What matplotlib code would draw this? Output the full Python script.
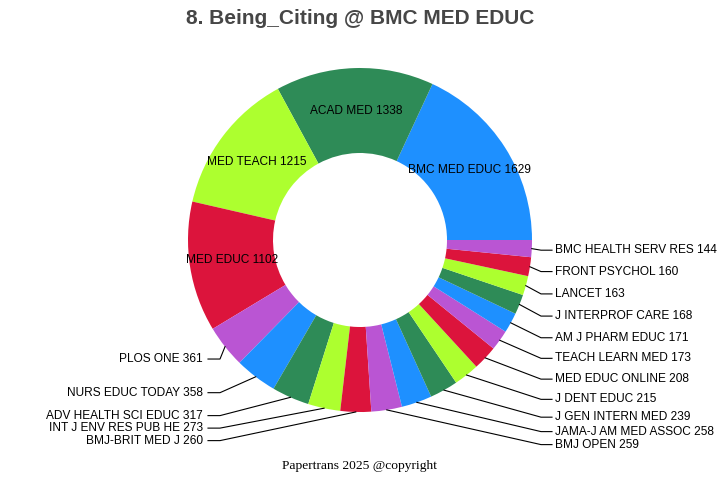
import numpy as np
import matplotlib
matplotlib.use("Agg")
import matplotlib.pyplot as plt

# journals citing BMC MED EDUC, in drawing order (counter-clockwise from 3 o'clock)
journals = ["BMC MED EDUC", "ACAD MED", "MED TEACH", "MED EDUC", "PLOS ONE",
            "NURS EDUC TODAY", "ADV HEALTH SCI EDUC", "INT J ENV RES PUB HE",
            "BMJ-BRIT MED J", "BMJ OPEN", "JAMA-J AM MED ASSOC", "J GEN INTERN MED",
            "J DENT EDUC", "MED EDUC ONLINE", "TEACH LEARN MED", "AM J PHARM EDUC",
            "J INTERPROF CARE", "LANCET", "FRONT PSYCHOL", "BMC HEALTH SERV RES"]
counts = [1629, 1338, 1215, 1102, 361, 358, 317, 273, 260, 259, 258, 239,
          215, 208, 173, 171, 168, 163, 160, 144]
palette = ["#1E90FF", "#2E8B57", "#ADFF2F", "#DC143C", "#BA55D3"]

plt.rcParams['font.family'] = ['Liberation Sans', 'DejaVu Sans']

fig = plt.figure(figsize=(7.2, 4.8), dpi=100)
ax = fig.add_axes([0, 0, 1, 1])

cx, cy = 360, 240          # centre in pixel units (y up)
r_out, r_in = 172, 87
colors = [palette[i % len(palette)] for i in range(len(counts))]

wedges, _ = ax.pie(counts, colors=colors, startangle=0, counterclock=True,
                   radius=r_out, center=(cx, cy),
                   wedgeprops=dict(width=r_out - r_in, linewidth=0))
ax.set_xlim(0, 720)
ax.set_ylim(0, 480)
ax.set_aspect('equal')
ax.axis('off')

fs = 8.6
r_mid = (r_out + r_in) / 2
right, left = [], []
for w, name, val in zip(wedges, journals, counts):
    mid = np.deg2rad((w.theta1 + w.theta2) / 2)
    label = f"{name} {val}"
    if val > 1000:
        ax.text(cx + r_mid * np.cos(mid), cy + r_mid * np.sin(mid), label,
                ha='center', va='center', fontsize=fs, color='black')
    elif np.cos(mid) >= 0:
        right.append((mid, label))
    else:
        left.append((mid, label))

# right side: stack top to bottom, push down to avoid overlap
right.sort(key=lambda t: -np.sin(t[0]))
prev = None
for mid, label in right:
    y = cy + 203 * np.sin(mid)
    if prev is not None and y > prev - 13:
        y = prev - 13
    prev = y
    ex, ey = cx + r_out * np.cos(mid), cy + r_out * np.sin(mid)
    ax.plot([ex, 541, 552], [ey, y, y], color='black', lw=0.8)
    ax.text(555, y, label, ha='left', va='center', fontsize=fs)

# left side
left.sort(key=lambda t: -np.sin(t[0]))
prev = None
for mid, label in left:
    y = cy + 192 * np.sin(mid)
    if prev is not None and y > prev - 12.5:
        y = prev - 12.5
    prev = y
    ex, ey = cx + r_out * np.cos(mid), cy + r_out * np.sin(mid)
    ax.plot([ex, 220, 208], [ey, y, y], color='black', lw=0.8)
    ax.text(203, y, label, ha='right', va='center', fontsize=fs)

fig.text(0.5, 1 - 18 / 480, "8. Being_Citing @ BMC MED EDUC", ha='center', va='center',
         fontsize=15, fontweight='bold', color='#464646')
fig.text(0.5, 1 - 466 / 480, "Papertrans 2025 @copyright", ha='center', va='center',
         fontsize=9.7, family='Liberation Serif', color='black')

fig.savefig("out.png", dpi=100)
